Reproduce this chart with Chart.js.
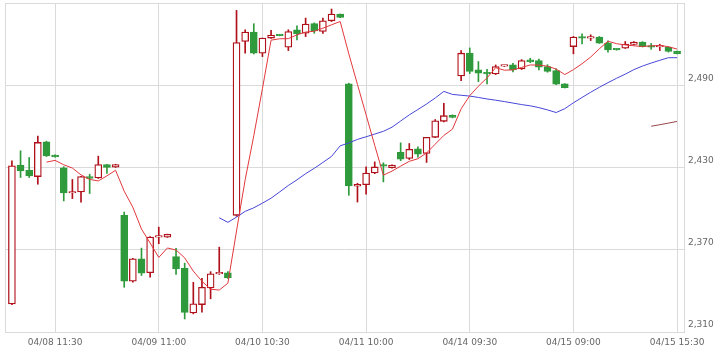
<!DOCTYPE html>
<html>
<head>
<meta charset="utf-8">
<script src="https://cdn.jsdelivr.net/npm/chart.js@4.4.1/dist/chart.umd.min.js"></script>
<style>
  html, body { margin: 0; padding: 0; background: #fff; }
  #wrap { width: 727px; height: 352px; }
</style>
</head>
<body>
<div id="wrap"><canvas id="candle-chart" width="727" height="352"></canvas></div>
<script>
(function () {
  'use strict';

  // 30 minute bars, 04/08 09:00 .. 04/15 15:30
  const open = [
    2330.5, 2431.7, 2428.0, 2423.4, 2448.7, 2439.0, 2429.7, 2411.4, 2412.1, 2423.4,
    2422.4, 2432.2, 2430.2, 2395.1, 2347.0, 2363.4, 2353.2, 2379.2, 2379.2, 2365.1,
    2356.5, 2323.9, 2330.0, 2342.2, 2352.4, 2353.2, 2395.1, 2521.9, 2528.8, 2513.4,
    2524.4, 2526.6, 2517.8, 2530.5, 2528.0, 2534.9, 2529.2, 2537.0, 2541.9, 2491.0,
    2416.3, 2417.5, 2426.0, 2431.3, 2429.9, 2441.0, 2436.6, 2443.6, 2440.2, 2452.0,
    2463.7, 2468.0, 2496.8, 2513.4, 2501.2, 2499.2, 2498.3, 2503.9, 2504.9, 2501.9,
    2508.5, 2508.0, 2503.6, 2500.7, 2491.0, 2518.2, 2525.1, 2524.4, 2525.1, 2520.7,
    2516.3, 2517.1, 2519.7, 2521.5, 2519.0, 2518.0, 2517.8, 2514.9
  ];
  const high = [
    2434.8, 2442.2, 2437.3, 2452.9, 2449.2, 2439.2, 2430.6, 2421.3, 2423.6, 2425.1,
    2438.3, 2432.4, 2432.4, 2397.5, 2363.8, 2371.2, 2379.6, 2386.5, 2381.4, 2371.0,
    2360.2, 2346.3, 2349.2, 2354.0, 2371.9, 2354.0, 2544.6, 2530.5, 2534.9, 2524.4,
    2530.0, 2526.8, 2530.5, 2533.4, 2539.0, 2535.5, 2539.0, 2545.6, 2542.0, 2491.5,
    2418.5, 2430.4, 2434.1, 2433.4, 2432.0, 2448.0, 2447.5, 2445.0, 2452.0, 2465.0,
    2476.8, 2468.4, 2515.3, 2517.2, 2507.3, 2501.7, 2504.8, 2504.3, 2506.0, 2508.7,
    2509.7, 2509.0, 2505.0, 2502.0, 2491.2, 2525.6, 2527.5, 2526.8, 2525.6, 2522.4,
    2516.5, 2521.9, 2521.9, 2521.8, 2520.5, 2519.9, 2518.0, 2515.0
  ];
  const low = [
    2330.0, 2422.7, 2422.7, 2417.8, 2438.0, 2437.6, 2405.6, 2407.3, 2404.8, 2411.0,
    2422.0, 2425.6, 2430.0, 2342.6, 2346.4, 2351.2, 2350.0, 2374.4, 2379.0, 2352.0,
    2319.5, 2323.2, 2324.4, 2334.2, 2352.0, 2349.0, 2394.4, 2513.4, 2512.8, 2510.9,
    2524.2, 2526.0, 2515.3, 2523.1, 2525.5, 2527.9, 2527.9, 2536.5, 2539.3, 2409.7,
    2404.8, 2410.5, 2425.5, 2419.5, 2429.5, 2435.0, 2435.8, 2437.5, 2433.7, 2451.8,
    2463.2, 2466.2, 2493.4, 2498.5, 2492.6, 2491.0, 2497.8, 2503.7, 2499.8, 2501.5,
    2506.5, 2501.2, 2499.5, 2490.5, 2488.0, 2512.9, 2520.2, 2522.6, 2520.5, 2514.1,
    2515.6, 2516.8, 2519.5, 2517.9, 2516.2, 2515.3, 2514.2, 2512.8
  ];
  const close = [
    2431.2, 2427.5, 2423.9, 2448.3, 2438.5, 2437.8, 2411.4, 2412.1, 2423.4, 2422.0,
    2432.2, 2430.0, 2432.2, 2347.0, 2363.4, 2352.9, 2379.2, 2379.6, 2381.2, 2356.1,
    2324.3, 2330.6, 2342.6, 2352.4, 2352.9, 2349.5, 2521.2, 2528.8, 2513.4, 2524.4,
    2526.6, 2526.2, 2529.2, 2527.5, 2534.6, 2529.7, 2537.0, 2541.9, 2539.5, 2416.6,
    2417.8, 2426.0, 2430.4, 2431.0, 2431.7, 2436.1, 2443.3, 2439.7, 2452.0, 2464.1,
    2467.8, 2466.6, 2513.4, 2500.0, 2498.8, 2498.3, 2503.6, 2504.1, 2501.2, 2508.0,
    2507.0, 2503.2, 2500.0, 2490.7, 2488.2, 2525.1, 2524.4, 2524.6, 2520.7, 2515.8,
    2515.8, 2520.0, 2521.5, 2518.2, 2517.8, 2518.2, 2514.6, 2513.1
  ];

  // moving averages as drawn (5 / 25 / 75)
  const ma5 = [
    null, null, null, null,
    2433.9, 2435.2, 2432.0, 2429.6, 2424.6, 2421.3, 2420.2, 2423.9, 2428.0, 2412.7,
    2401.0, 2385.1, 2374.9, 2364.4, 2371.3, 2369.8, 2364.1, 2354.4, 2347.0, 2341.2,
    2340.6, 2345.6, 2383.7, 2421.0, 2453.2, 2487.5, 2522.9, 2523.9, 2524.0, 2526.8,
    2528.8, 2529.4, 2531.6, 2534.1, 2536.5, 2512.9, 2490.6, 2468.4, 2446.1, 2424.4,
    2427.4, 2431.0, 2434.5, 2436.4, 2440.6, 2447.0, 2453.4, 2458.0, 2472.8, 2482.4,
    2489.3, 2495.4, 2502.8, 2501.0, 2501.2, 2503.0, 2504.8, 2504.7, 2503.9, 2501.8,
    2497.8, 2501.4, 2505.7, 2510.6, 2516.6, 2522.1, 2520.3, 2519.4, 2518.8, 2518.3,
    2518.7, 2519.1, 2518.1, 2516.4
  ];
  const ma25 = [
    null, null, null, null, null, null, null, null, null, null,
    null, null, null, null, null, null, null, null, null, null,
    null, null, null, null,
    2393.3, 2390.0, 2393.8, 2398.0, 2400.6, 2404.0, 2407.6, 2412.2, 2416.9, 2421.0,
    2425.5, 2429.4, 2433.7, 2438.1, 2445.8, 2447.9, 2450.5, 2452.4, 2454.4, 2456.4,
    2459.4, 2463.9, 2468.4, 2472.3, 2476.3, 2480.7, 2485.5, 2483.3, 2482.7, 2482.1,
    2481.1, 2480.0, 2479.1, 2478.1, 2477.0, 2475.9, 2475.0, 2473.7, 2472.0, 2470.1,
    2472.9, 2477.2, 2481.1, 2484.9, 2488.5, 2491.9, 2495.1, 2498.1, 2501.4, 2504.0,
    2506.2, 2508.2, 2510.1, 2510.1
  ];
  const ma75 = [
    null, null, null, null, null, null, null, null, null, null,
    null, null, null, null, null, null, null, null, null, null,
    null, null, null, null, null, null, null, null, null, null,
    null, null, null, null, null, null, null, null, null, null,
    null, null, null, null, null, null, null, null, null, null,
    null, null, null, null, null, null, null, null, null, null,
    null, null, null, null, null, null, null, null, null, null,
    null, null, null, null,
    2460.1, 2461.2, 2462.4, 2463.6
  ];

  const tickIdx = [5, 17, 29, 41, 53, 65, 77];
  const tickLabels = ['04/08 11:30', '04/09 11:00', '04/10 10:30', '04/11 10:00',
    '04/14 09:30', '04/15 09:00', '04/15 15:30'];
  const yTicks = [2310, 2370, 2430, 2490, 2550];

  const upColor = '#b0101a';
  const downColor = '#2f9a3c';
  const gridColor = '#dadada';
  const xMin = -0.8;
  const xMax = 77.8;

  const isUp = (i) => close[i] >= open[i];
  const candleColor = (ctx) => isUp(ctx.dataIndex) ? upColor : downColor;
  const toPoints = (arr) => arr.map((v, i) => ({ x: i, y: v }));

  Chart.defaults.font.family = 'DejaVu Sans';
  Chart.defaults.font.size = 9;
  Chart.defaults.color = '#666';

  new Chart(document.getElementById('candle-chart'), {
    type: 'bar',
    data: {
      datasets: [
        {
          type: 'line',
          label: 'MA5',
          data: toPoints(ma5),
          borderColor: '#e2383c',
          borderWidth: 1,
          pointRadius: 0,
          tension: 0,
          order: 1
        },
        {
          type: 'line',
          label: 'MA25',
          data: toPoints(ma25),
          borderColor: '#4646d8',
          borderWidth: 1,
          pointRadius: 0,
          tension: 0,
          order: 1
        },
        {
          type: 'line',
          label: 'MA75',
          data: toPoints(ma75),
          borderColor: '#96464a',
          borderWidth: 1,
          pointRadius: 0,
          tension: 0,
          order: 1
        },
        {
          label: 'body',
          data: close.map((c, i) => ({ x: i, y: [open[i], c] })),
          backgroundColor: (ctx) => isUp(ctx.dataIndex) ? '#ffffff' : downColor,
          borderColor: candleColor,
          borderWidth: 1.3,
          borderSkipped: false,
          barThickness: 7,
          minBarLength: 1.5,
          grouped: false,
          order: 2
        },
        {
          label: 'wick',
          data: close.map((c, i) => ({ x: i, y: [low[i], high[i]] })),
          backgroundColor: candleColor,
          borderWidth: 0,
          barThickness: 1,
          minBarLength: 1,
          grouped: false,
          order: 3
        }
      ]
    },
    options: {
      responsive: false,
      animation: false,
      layout: { padding: { left: 5, top: 3 } },
      plugins: {
        legend: { display: false },
        tooltip: { enabled: false }
      },
      scales: {
        x: {
          type: 'linear',
          min: xMin,
          max: xMax,
          offset: false,
          grid: { color: gridColor, drawTicks: false, offset: false },
          border: { color: gridColor },
          afterBuildTicks: (s) => { s.ticks = [xMin, ...tickIdx, xMax].map(v => ({ value: v })); },
          afterFit: (s) => {
            s.height = 20;
            s.paddingLeft = 0;
            s.paddingRight = 0;
          },
          ticks: {
            autoSkip: false,
            maxRotation: 0,
            padding: 5,
            callback: (v) => {
              const k = tickIdx.indexOf(v);
              return k < 0 ? '' : tickLabels[k];
            }
          }
        },
        y: {
          position: 'right',
          min: yTicks[0],
          max: yTicks[yTicks.length - 1],
          grid: { color: gridColor, drawTicks: false },
          border: { color: gridColor },
          afterBuildTicks: (s) => { s.ticks = yTicks.map(v => ({ value: v })); },
          afterFit: (s) => {
            s.width = 43;
            s.paddingTop = 0;
            s.paddingBottom = 0;
          },
          ticks: {
            padding: 4,
            labelOffset: -7,
            callback: (v) => v === yTicks[yTicks.length - 1] ? '' : v.toLocaleString('en-US')
          }
        }
      }
    }
  });
})();
</script>
</body>
</html>
